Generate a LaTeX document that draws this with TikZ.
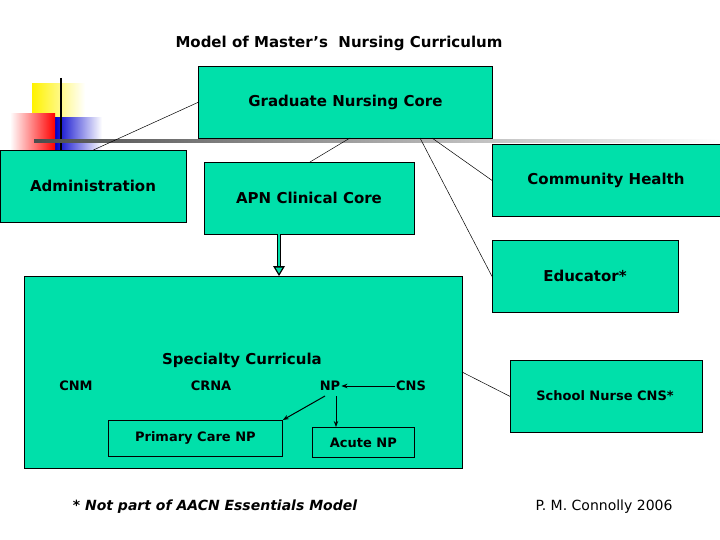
\documentclass[tikz,border=0pt]{standalone}
\usepackage{fontspec}
\setmainfont{DejaVu Sans}
\usetikzlibrary{arrows.meta}
\definecolor{tl}{RGB}{0,224,170}
\tikzset{bx/.style={draw=black,fill=tl,line width=0.8pt,inner sep=0pt},
 lbl/.style={font=\bfseries\fontsize{15}{18}\selectfont},
 sm/.style={font=\bfseries\fontsize{13}{15}\selectfont},
 ln/.style={line width=0.5pt},
 ar/.style={line width=1pt,-{Stealth[length=6pt]}}}
\begin{document}
\begin{tikzpicture}[x=1pt,y=-1pt]
\useasboundingbox (0,0) rectangle (720,540);
% logo
\shade[left color=yellow!90!orange, right color=white] (32,84) rectangle (85,130);
\shade[left color=blue!80!black, right color=white] (55,118) rectangle (102,150);
\shade[right color=red, left color=white] (10,114) rectangle (55,150);
\draw[line width=2pt] (61,78) -- (61,150);
\shade[left color=black!70, right color=white] (34,139.5) rectangle (720,142.5);
% boxes
\node[bx,minimum width=294pt,minimum height=72pt,anchor=north west] (g) at (198,66) {};
\node[lbl] at (g.center) {Graduate Nursing Core};
\node[bx,minimum width=186pt,minimum height=72pt,anchor=north west] (ad) at (0,150) {};
\node[lbl] at (93,186) {Administration};
\node[bx,minimum width=210pt,minimum height=72pt,anchor=north west] (apn) at (204,162) {};
\node[lbl] at (309,198) {APN Clinical Core};
\node[bx,minimum width=230pt,minimum height=72pt,anchor=north west] (ch) at (492,144) {};
\node[lbl] at (606,180) {Community Health};
\node[bx,minimum width=186pt,minimum height=72pt,anchor=north west] (ed) at (492,240) {};
\node[lbl] at (585,276) {Educator*};
\node[bx,minimum width=438pt,minimum height=192pt,anchor=north west] (sp) at (24,276) {};
\node[bx,minimum width=192pt,minimum height=72pt,anchor=north west] (sn) at (510,360) {};
\node[sm] at (605,396) {School Nurse CNS*};
\node[lbl] (spt) at (242,360) {Specialty Curricula};
\node[sm] (cnm) at (76,386) {CNM};
\node[sm] (crna) at (211,386) {CRNA};
\node[sm,inner sep=1pt] (np) at (330,386) {NP};
\node[sm,inner sep=1pt] (cns) at (411,386) {CNS};
\node[bx,minimum width=174pt,minimum height=36pt,anchor=north west] (pc) at (108,420) {};
\node[sm] at (pc.center) {Primary Care NP};
\node[bx,minimum width=102pt,minimum height=30pt,anchor=north west] (ac) at (312,427) {};
\node[sm] at (ac.center) {Acute NP};
% connectors
\draw[ln] (g.west) -- (ad.north);
\draw[ln] (350,138) -- (310,162);
\draw[ln] (420,138) -- (ed.west);
\draw[ln] (432,138) -- (ch.west);
\draw[ln] (462,372) -- (sn.west);
\draw[ar] (cns.west) -- (np.east);
\draw[ar] (325,396) -- (pc.north east);
\draw[ar] (336,396) -- (336,427);
\draw[line width=4pt] (279,234) -- (279,268);
\draw[line width=2.4pt,tl] (279,234) -- (279,268);
\fill[black] (273,266) -- (285,266) -- (279,276) -- cycle;
\fill[tl] (275.5,267.5) -- (282.5,267.5) -- (279,273.5) -- cycle;
% footer
\node[font=\bfseries\itshape\fontsize{14}{16}\selectfont] at (215,507) {* Not part of AACN Essentials Model};
\node[font=\fontsize{14}{16}\selectfont] at (604,507) {P. M. Connolly 2006};
\node[font=\bfseries\fontsize{15}{18}\selectfont] at (339,43) {Model of Master’s~ Nursing Curriculum};
\end{tikzpicture}
\end{document}
